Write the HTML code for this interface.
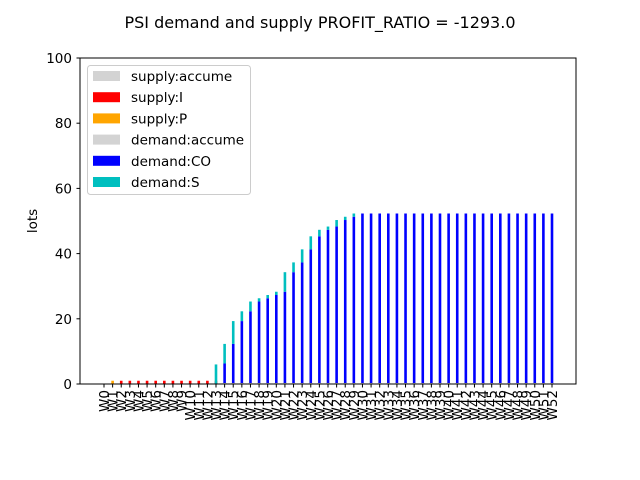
<!DOCTYPE html>
<html><head><meta charset="utf-8"><style>
body{margin:0;background:#fff}
svg{display:block;font-family:"DejaVu Sans","Liberation Sans",sans-serif}
</style></head><body>
<svg id="chart" width="640" height="480">
<text x="320" y="28" text-anchor="middle" font-size="16">PSI demand and supply PROFIT_RATIO = -1293.0</text>
<text transform="translate(37,221) rotate(-90)" text-anchor="middle" font-size="13.5">lots</text>
<g id="bars"></g>
<rect x="80" y="58" width="496" height="326" fill="none" stroke="#000" stroke-width="1"/>
<g id="yaxis"></g><g id="xaxis"></g>
<g>
<rect x="87.5" y="65.5" width="163" height="129" fill="#fff" fill-opacity="0.8" stroke="#ccc" rx="3"/>
<g id="legend"></g>
</g>
</svg>
<script>
const weeks=[];for(let i=0;i<=52;i++)weeks.push('W'+i);
const supplyAccume=new Array(53).fill(0);
const supplyI=[0,0,1,1,1,1,1,1,1,1,1,1,1,1].concat(new Array(39).fill(0));
const supplyP=[0,1].concat(new Array(51).fill(0));
const demandAccume=new Array(14).fill(0).concat(new Array(39).fill(0.3));
const demandCO=[0,0,0,0,0,0,0,0,0,0,0,0,0,0,6,12,19,22,25,26,27,28,34,37,41,45,47,48,50,51].concat(new Array(23).fill(52));
const demandS=[0,0,0,0,0,0,0,0,0,0,0,0,0,6,6,7,3,3,1,1,1,6,3,4,4,2,1,2,1,1].concat(new Array(23).fill(0));
const yTicks=[0,20,40,60,80,100];
const NS='http://www.w3.org/2000/svg';
const X=i=>104+i*(448/52), Y=v=>384-v*3.26;
function mk(tag,attrs,parent){const e=document.createElementNS(NS,tag);for(const k in attrs)e.setAttribute(k,attrs[k]);parent.appendChild(e);return e;}
const bars=document.getElementById('bars');
weeks.forEach((w,i)=>{
  let base=0;
  [[supplyAccume[i],'#d3d3d3',4],[supplyI[i],'#ff0000',2.6],[supplyP[i],'#ffa500',2.6]].forEach(([v,c,bw])=>{
    if(v>0){const r=mk('rect',{x:X(i)-bw/2,y:Y(base+v),width:bw,height:Y(base)-Y(base+v),fill:c},bars);
    
    base+=v;}
  });
  base=0;
  [[demandAccume[i],'#d3d3d3',4],[demandCO[i],'#0000ff',2.6],[demandS[i],'#00bfbf',2.6]].forEach(([v,c,bw])=>{
    if(v>0){const r=mk('rect',{x:X(i)-bw/2,y:Y(base+v),width:bw,height:Y(base)-Y(base+v),fill:c},bars);
    
    base+=v;}
  });
});
const ya=document.getElementById('yaxis');
yTicks.forEach(t=>{
  const l=mk('line',{x1:76.5,x2:80,y1:Y(t),y2:Y(t),stroke:'#000'},ya);
  
  
  const tx=mk('text',{x:72,y:Y(t)+5,'text-anchor':'end','font-size':'13.5'},ya);tx.textContent=t;
  
  
});
const xa=document.getElementById('xaxis');
weeks.forEach((w,i)=>{
  const l=mk('line',{x1:X(i),x2:X(i),y1:384,y2:387.5,stroke:'#000'},xa);
  
  
  const tx=mk('text',{transform:`translate(${X(i)+5},390) rotate(-90)`,'text-anchor':'end','font-size':'13.5'},xa);tx.textContent=w;
  
  
});
const legendItems=['supply:accume','supply:I','supply:P','demand:accume','demand:CO','demand:S'];
const legendColors=['#d3d3d3','#ff0000','#ffa500','#d3d3d3','#0000ff','#00bfbf'];
const lg=document.getElementById('legend');
legendItems.forEach((s,k)=>{
  const y=76+k*21.2;
  const r=mk('rect',{x:93,y:y-5,width:27,height:10,fill:legendColors[k]},lg);
  
  
  const t=mk('text',{x:131,y:y+5,'font-size':'13.5'},lg);t.textContent=s;
  
  
});
</script>
</body></html>
